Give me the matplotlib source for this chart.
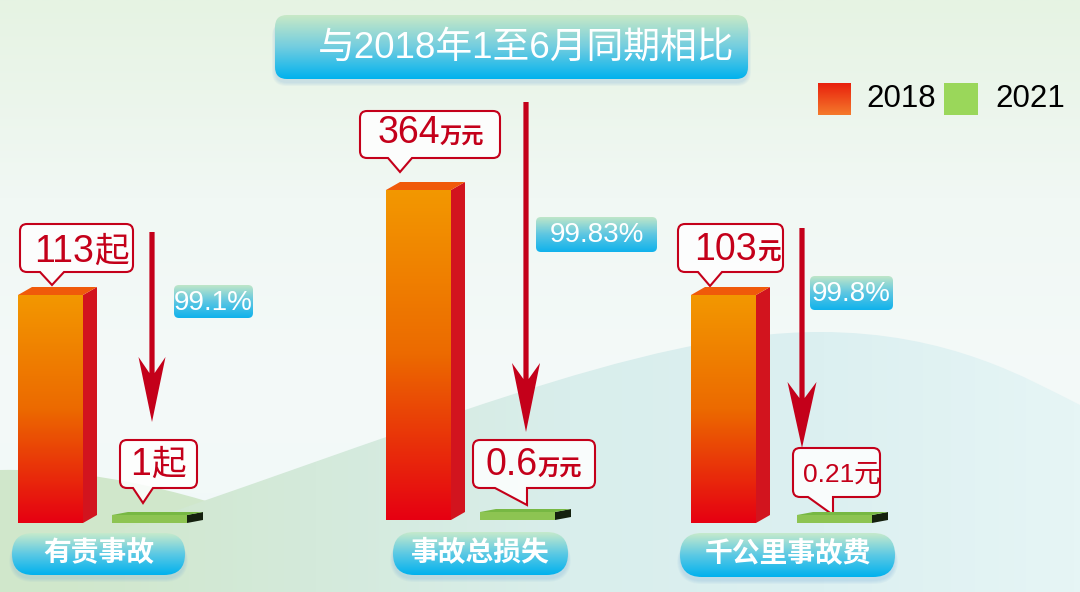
import numpy as np
import matplotlib
matplotlib.use('Agg')
import matplotlib.pyplot as plt
from matplotlib.patches import FancyBboxPatch, Polygon, PathPatch, Rectangle
from matplotlib.path import Path
from matplotlib.colors import LinearSegmentedColormap

plt.rcParams['font.family'] = ['Liberation Sans', 'Noto Sans CJK SC']

#=============================================================================
#... data
categories = ['有责事故', '事故总损失', '千公里事故费']
val_2018 = [113, 364, 103]
val_2021 = [1, 0.6, 0.21]
units = ['起', '万元', '元']
drops = ['99.1%', '99.83%', '99.8%']
years = ['2018', '2021']
title = '与2018年1至6月同期相比'

#=============================================================================
#... layout (pixels, y downward)
W, H = 1080, 592
bar_left = [18, 386, 691]
base_y = [523, 520, 523]
top_y = [295, 190, 295]
green_off = [94, 94, 106]
# callout boxes: x0, y0, x1, y1, pointer left, pointer right, tip x, tip y
box18 = [(20, 224, 133, 272, 40, 64, 52, 285),
         (360, 111, 500, 158, 388, 412, 400, 172),
         (678, 224, 783, 272, 698, 722, 710, 286)]
box21 = [(120, 440, 197, 488, 133, 153, 143, 503),
         (473, 440, 595, 488, 495, 527, 527, 505),
         (793, 448, 880, 497, 808, 833, 833, 515)]
# split x, baseline, number size, unit size
lab18 = [(94, 262, 27, 25), (440, 143, 27, 16), (757, 260, 27, 17)]
lab21 = [(151, 475, 27, 25), (538, 475, 27, 16), (854, 482, 19, 19)]
pct_box = [(174, 285, 253, 318), (536, 217, 657, 252), (810, 276, 893, 310)]
pill_box = [(12, 533, 185, 575), (393, 532, 568, 575), (680, 533, 895, 577)]
arrows = [(152, 232, 357, 422, 13.5), (526, 102, 363, 432, 14), (802, 228, 382, 448, 14.5)]

RED = '#c4001a'
BLUE_GRAD = ['#c8e9c6', '#72cde0', '#00b2ee']


def grad_fill(ax, x0, x1, ybot, ytop, colors, clip, horizontal=False, zorder=2):
    cm = LinearSegmentedColormap.from_list('g', colors)
    g = np.linspace(0, 1, 256).reshape(-1, 1)
    if horizontal:
        g = g.T
    im = ax.imshow(g, cmap=cm, extent=(x0, x1, ybot, ytop), origin='upper',
                   aspect='auto', zorder=zorder, interpolation='bilinear')
    im.set_clip_path(clip)
    return im


def grad_box(ax, x0, y0, x1, y1, r, colors, zorder=3, shadow=True):
    if shadow:
        for k in range(4):
            s = FancyBboxPatch((x0 - k, y0 + 4 + k), x1 - x0 + 2 * k, y1 - y0,
                               boxstyle='round,pad=0,rounding_size=%g' % (r + k),
                               fc='#6fa8d8', ec='none', alpha=0.07, zorder=zorder - 0.5)
            ax.add_patch(s)
    p = FancyBboxPatch((x0, y0), x1 - x0, y1 - y0,
                       boxstyle='round,pad=0,rounding_size=%g' % r,
                       fc='none', ec='none', zorder=zorder)
    ax.add_patch(p)
    grad_fill(ax, x0, x1, y1, y0, colors, p, zorder=zorder)


def callout(ax, x0, y0, x1, y1, bl, br, tx, ty, r=7):
    M, L, C, Z = Path.MOVETO, Path.LINETO, Path.CURVE3, Path.CLOSEPOLY
    verts = [(x0 + r, y0), (x1 - r, y0), (x1, y0), (x1, y0 + r), (x1, y1 - r),
             (x1, y1), (x1 - r, y1), (br, y1), (tx, ty), (bl, y1), (x0 + r, y1),
             (x0, y1), (x0, y1 - r), (x0, y0 + r), (x0, y0), (x0 + r, y0), (x0 + r, y0)]
    codes = [M, L, C, C, L, C, C, L, L, L, L, C, C, L, C, C, Z]
    ax.add_patch(PathPatch(Path(verts, codes), fc='white', alpha=0.85, ec='none', zorder=6))
    ax.add_patch(PathPatch(Path(verts, codes), fc='none', ec=RED, lw=1.5, zorder=7))


def value_label(ax, val, unit, split, base, fs, ufs):
    ax.text(split, base, f'{val:g}', color=RED, fontsize=fs, ha='right',
            va='baseline', zorder=8)
    ax.text(split, base, unit, color=RED, fontsize=ufs, ha='left',
            va='baseline', zorder=8, fontweight='bold' if ufs < 19 else 'normal')


#=============================================================================
#... create the figure
fig = plt.figure(figsize=(10.8, 5.92), dpi=100)
bg = fig.add_axes([0, 0, 1, 1])
bg.axis('off')

#... background
frame = Rectangle((0, 0), W, H, fc='none', ec='none')
bg.add_patch(frame)
grad_fill(bg, 0, W, H, 0, ['#e6f3e3', '#f1f8f4', '#f4faf9', '#f0f8f8'], frame, zorder=0)

Mv, Lv, C4 = Path.MOVETO, Path.LINETO, Path.CURVE4
hill_r = Path([(60, 550), (420, 430), (640, 332), (820, 332), (950, 332), (1030, 380),
               (1080, 405), (1080, 592), (60, 592), (60, 550)],
              [Mv, C4, C4, C4, C4, C4, C4, Lv, Lv, Path.CLOSEPOLY])
hr = PathPatch(hill_r, fc='none', ec='none', zorder=0.5)
bg.add_patch(hr)
grad_fill(bg, 60, W, H, 330, ['#d0e7cb', '#d4eadb', '#d9eeec', '#dcf0f1', '#e6f5f5'], hr,
          horizontal=True, zorder=0.5)
hill_l = Path([(0, 470), (90, 468), (200, 492), (300, 535), (360, 560), (420, 592),
               (0, 592), (0, 470)],
              [Mv, C4, C4, C4, Lv, Lv, Lv, Path.CLOSEPOLY])
bg.add_patch(PathPatch(hill_l, fc='#d0e7cb', ec='none', zorder=0.4))

#... title box
grad_box(bg, 275, 15, 748, 79, 12, BLUE_GRAD, zorder=3)
bg.text(526, 48, title, color='white', fontsize=26.5, ha='center', va='center', zorder=4)

#... legend
sq1 = Rectangle((818, 83), 33, 32, fc='none', ec='none')
bg.add_patch(sq1)
grad_fill(bg, 818, 851, 115, 83, ['#e8200c', '#f57a2c'], sq1, zorder=3)
bg.add_patch(Rectangle((944, 83), 34, 32, fc='#9ad75a', ec='none', zorder=3))
bg.text(866, 99, years[0], fontsize=22.5, ha='left', va='center', color='black', zorder=4)
bg.text(995, 99, years[1], fontsize=22.5, ha='left', va='center', color='black', zorder=4)

#... arrows, percentage tags, category pills, callouts
for i in range(3):
    x, y0, yh, yt, hw = arrows[i]
    sw, notch = 2.6, 16
    bg.add_patch(Polygon([(x - sw, y0), (x + sw, y0), (x + sw, yh + notch), (x + hw, yh),
                          (x, yt), (x - hw, yh), (x - sw, yh + notch)],
                         closed=True, fc=RED, ec='none', zorder=5))

    px0, py0, px1, py1 = pct_box[i]
    grad_box(bg, px0, py0, px1, py1, 5, ['#bfe6c8', '#5cc6e2', '#0fb2ec'], zorder=3, shadow=False)
    bg.text((px0 + px1) / 2, (py0 + py1) / 2 + 1, drops[i], color='white', fontsize=20,
            ha='center', va='center', zorder=4)

    cx0, cy0, cx1, cy1 = pill_box[i]
    grad_box(bg, cx0, cy0, cx1, cy1, (cy1 - cy0) / 2, ['#c6eacc', '#5cc9e4', '#00b1ee'], zorder=3)
    bg.text((cx0 + cx1) / 2, (cy0 + cy1) / 2, categories[i], color='white', fontsize=20,
            fontweight='bold', ha='center', va='center', zorder=4)

    callout(bg, *box18[i])
    callout(bg, *box21[i])
    value_label(bg, val_2018[i], units[i], *lab18[i])
    value_label(bg, val_2021[i], units[i], *lab21[i])

bg.set_xlim(0, W)
bg.set_ylim(H, 0)

#=============================================================================
#... bars: one small axes per group, each with its own scale
for i in range(3):
    hpx = base_y[i] - top_y[i]
    wpx = 220
    ax = fig.add_axes([bar_left[i] / W, (H - base_y[i]) / H, wpx / W, hpx / H])
    ax.axis('off')
    v18, v21 = val_2018[i], val_2021[i]
    ppu = hpx / v18
    floor = 8 / ppu
    h21 = max(v21, floor)
    bars = ax.bar([0, green_off[i]], [v18, h21], width=[65, 75], align='edge',
                  color=['none', '#8dc452'], edgecolor='none', zorder=3)
    grad_fill(ax, 0, 65, 0, v18, ['#f39800', '#ec6a00', '#e60012'], bars[0], zorder=3)

    # orange side and top faces
    dx, dy = 14, 8 / ppu
    ax.add_patch(Polygon([(65, 0), (65 + dx, dy), (65 + dx, v18 + dy), (65, v18)],
                         fc='#d2141e', ec='none', clip_on=False, zorder=2))
    ax.add_patch(Polygon([(0, v18), (65, v18), (65 + dx, v18 + dy), (dx, v18 + dy)],
                         fc='#f05a0a', ec='none', clip_on=False, zorder=2))
    # green side and top faces
    g0 = green_off[i]
    dx, dy = 16, 3 / ppu
    ax.add_patch(Polygon([(g0 + 75, 0), (g0 + 75 + dx, dy), (g0 + 75 + dx, h21 + dy), (g0 + 75, h21)],
                         fc='#14200e', ec='none', clip_on=False, zorder=2))
    ax.add_patch(Polygon([(g0, h21), (g0 + 75, h21), (g0 + 75 + dx, h21 + dy), (g0 + dx, h21 + dy)],
                         fc='#77b843', ec='none', clip_on=False, zorder=2))

    ax.set_xlim(0, wpx)
    ax.set_ylim(0, v18)

fig.savefig('out.png', dpi=100)
